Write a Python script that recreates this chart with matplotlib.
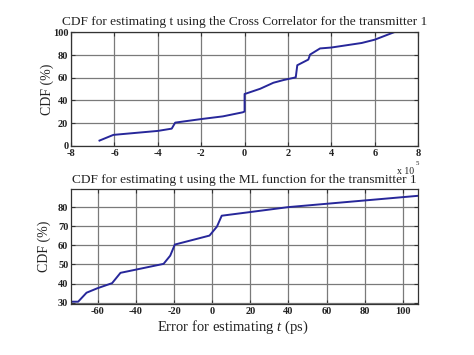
import matplotlib
matplotlib.use("Agg")
import matplotlib.pyplot as plt
from matplotlib.ticker import MultipleLocator

plt.rcParams['font.family'] = ['Liberation Serif', 'DejaVu Serif']
plt.rcParams['axes.unicode_minus'] = False
plt.rcParams['mathtext.fontset'] = 'custom'
plt.rcParams['mathtext.it'] = 'Liberation Serif:italic'
plt.rcParams['mathtext.rm'] = 'Liberation Serif'

# Top panel: Cross Correlator (x in units of 1e5)
cc_x = [-6.69, -6.05, -4.0, -3.36, -3.2, -1.97, -1.0, -0.08, 0.0, 0.0, 0.1, 0.72, 1.33, 1.8, 2.33, 2.36, 2.43, 2.94, 3.02, 3.48, 4.0, 5.4, 6.0, 7.02]
cc_y = [4.7, 9.7, 13.2, 15.2, 20.5, 23.7, 26.0, 29.6, 30.3, 45.7, 46.3, 50.3, 55.6, 58.0, 60.2, 60.4, 71.0, 76.0, 80.4, 85.8, 86.6, 90.6, 93.5, 101.0]

# Bottom panel: ML function (ps)
ml_x = [-73.8, -70.3, -65.9, -60.3, -52.5, -48.1, -25.5, -22.0, -19.6, -1.4, 2.5, 5.0, 19.8, 39.9, 107.8]
ml_y = [30.5, 30.5, 35.2, 37.5, 40.2, 45.6, 50.3, 54.6, 60.4, 65.1, 69.8, 75.5, 77.4, 80.0, 85.9]

top_title = "CDF for estimating t using the Cross Correlator for the transmitter 1"
bot_title = "CDF for estimating t using the ML function for the transmitter 1"

line_color = "#27279a"
grid_color = "#7a7a7a"

fig = plt.figure(figsize=(4.74, 3.55), dpi=100)
ax1 = fig.add_axes([0.150, 0.589, 0.732, 0.320])
ax2 = fig.add_axes([0.150, 0.1437, 0.732, 0.324])

def style(ax):
    ax.grid(True, color=grid_color, linewidth=0.9, linestyle='-')
    ax.set_axisbelow(True)
    for s in ax.spines.values():
        s.set_color('#333333')
        s.set_linewidth(0.9)
    ax.tick_params(direction='in', length=3, width=0.8, colors='#333333',
                   labelsize=7.5, labelcolor='#222222', pad=2,
                   top=True, right=True)
    for lab in ax.get_xticklabels() + ax.get_yticklabels():
        lab.set_fontweight('bold')

ax1.plot(cc_x, cc_y, color=line_color, linewidth=1.4)
ax1.set_xlim(-8, 8)
ax1.set_ylim(0, 100)
ax1.xaxis.set_major_locator(MultipleLocator(2))
ax1.yaxis.set_major_locator(MultipleLocator(20))
style(ax1)
ax1.set_title(top_title, fontsize=9.6, pad=5, color='#222222')
ax1.set_ylabel("CDF (%)", fontsize=10, color='#222222')
ax1.yaxis.set_label_coords(-0.05, 0.5)

ax2.plot(ml_x, ml_y, color=line_color, linewidth=1.4)
ax2.set_xlim(-74, 108)
ax2.set_ylim(29.3, 89.5)
ax2.xaxis.set_major_locator(MultipleLocator(20))
ax2.yaxis.set_major_locator(MultipleLocator(10))
style(ax2)
ax2.set_title(bot_title, fontsize=9.6, pad=4, color='#222222')
ax2.set_ylabel("CDF (%)", fontsize=10, color='#222222')
ax2.yaxis.set_label_coords(-0.058, 0.5)
ax2.set_xlabel("Error for estimating $\\mathit{t}$ (ps)", fontsize=10.5, color='#222222')
ax2.xaxis.set_label_coords(0.467, -0.13)

fig.text(0.838, 0.518, "x 10", fontsize=7, color='#222222', ha='left', va='center')
fig.text(0.876, 0.540, "5", fontsize=5, color='#222222', ha='left', va='center')

fig.savefig("out.png", dpi=100)
